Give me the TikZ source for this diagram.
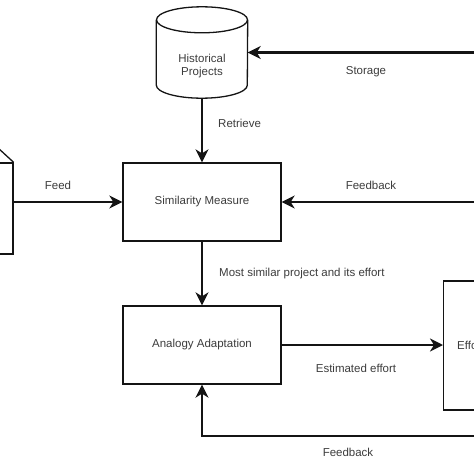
\documentclass[tikz,border=0pt]{standalone}
\usepackage{fontspec}
\setmainfont{Liberation Sans}
\usetikzlibrary{arrows.meta,calc,positioning}
\definecolor{linegray}{RGB}{20,20,20}
\definecolor{textgray}{RGB}{60,60,60}

\begin{document}
\begin{tikzpicture}[x=1pt, y=-1pt, >={Stealth[length=13pt, width=13pt, inset=4pt]},
    every node/.append style={font=\fontsize{11.5}{12.5}\selectfont, text=textgray},
    block/.style={draw=linegray, line width=1.3pt, minimum width=158pt, minimum height=78pt},
    flow/.style={->, line width=2.4pt, draw=linegray},
    lbl/.style={inner sep=0pt}]
    \useasboundingbox (0,0) rectangle (474,474);

    % Input cube, cut off at the left edge
    \node[draw=linegray, line width=1.3pt, minimum width=73pt, minimum height=91pt] (src) at (-23.5,208.5) {};
    \draw[line width=1.3pt, draw=linegray] (src.north east) -- ++(-15,-13.8);

    % Historical projects store (cylinder)
    \node[minimum width=91pt, minimum height=91pt, inner sep=0pt] (hist) at (202,52.5) {};
    \draw[line width=1.3pt, draw=linegray] ($(hist.north west)+(0,13)$) -- ($(hist.south west)+(0,-13)$)
      arc[start angle=180, end angle=360, x radius=45.5pt, y radius=13pt] -- ($(hist.north east)+(0,13)$);
    \draw[line width=1.3pt, draw=linegray] ($(hist.north)+(0,13)$) ellipse[x radius=45.5pt, y radius=13pt];
    \node[align=center, inner sep=0pt] (histtxt) at ($(hist.center)+(0,13.5)$) {Historical\\Projects};

    % Process blocks
    \node[block] (sim) at (202,202) {Similarity Measure};
    \node[block] (ana) at (202,345) {Analogy Adaptation};
    \node[block, minimum width=100pt, minimum height=129pt, anchor=west] (eff) at (443,345.5) {};
    \node[lbl, anchor=west] (efftxt) at (457,345.5) {Effort};

    % Free ends beyond the right edge
    \coordinate (stin) at (480,52.5);
    \coordinate (fbin) at (480,202);
    \coordinate (fbback) at (480,436);

    % Connectors
    \draw[flow] (stin) -- (hist.east);
    \draw[flow] (hist.south) -- (sim.north);
    \draw[flow] (src.east |- sim.west) -- (sim.west);
    \draw[flow] (fbin) -- (sim.east);
    \draw[flow] (sim.south) -- (ana.north);
    \draw[flow] (ana.east) -- (eff.west |- ana.east);
    \draw[flow] (fbback) -| (ana.south);

    % Connector labels
    \node[lbl] (storage) at (366,72) {Storage};
    \node[lbl, anchor=west] (retrieve) at (218,123) {Retrieve};
    \node[lbl] (feed) at (58,185) {Feed};
    \node[lbl] (fbtop) at (371,185) {Feedback};
    \node[lbl, anchor=west] (simlbl) at (219,274) {Most similar project and its effort};
    \node[lbl] (estlbl) at (356,368) {Estimated effort};
    \node[lbl] (fbbot) at (348,452) {Feedback};
\end{tikzpicture}
\end{document}
